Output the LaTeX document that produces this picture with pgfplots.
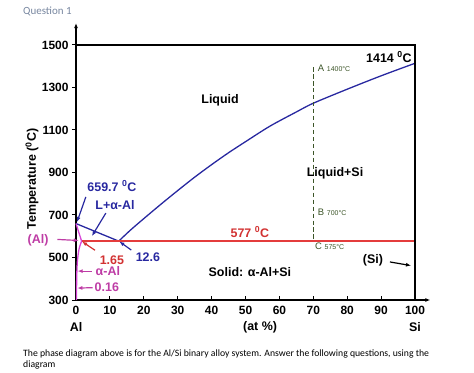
\documentclass[border=0pt]{standalone}
\usepackage{fontspec}
\setmainfont{Liberation Sans}
\newfontfamily\carlito{Carlito}
\usepackage{pgfplots}
\pgfplotsset{compat=1.18}
\usetikzlibrary{arrows.meta}
\definecolor{dblue}{RGB}{40,40,160}
\definecolor{lred}{RGB}{228,60,60}
\definecolor{tred}{RGB}{210,50,50}
\definecolor{lpink}{RGB}{215,70,215}
\definecolor{tpink}{RGB}{190,60,165}
\definecolor{dgreen}{RGB}{60,85,40}
\definecolor{qgrey}{RGB}{120,135,160}
\begin{document}
\begin{tikzpicture}
\useasboundingbox (0,0) rectangle (474bp,373bp);
\node[anchor=west, font=\carlito\fontsize{11}{13}\selectfont, text=qgrey, inner sep=0] at (23bp,362bp) {Question 1};
\node[anchor=base west, font=\carlito\fontsize{9.75}{11}\selectfont, inner sep=0] at (23bp,17bp) {The phase diagram above is for the Al/Si binary alloy system. Answer the following questions, using the};
\node[anchor=base west, font=\carlito\fontsize{9.75}{11}\selectfont, inner sep=0] at (23bp,5.5bp) {diagram};
\begin{axis}[
  at={(76bp,73bp)}, anchor=south west, scale only axis,
  width=354.3bp, height=276.9bp,
  xmin=0, xmax=104.5, ymin=300, ymax=1603,
  axis lines=left,
  axis line style={line width=1.4pt, -{Latex[length=5pt,width=4pt]}},
  xtick={0,10,...,100}, ytick={300,500,...,1500},
  xtick align=inside, ytick align=outside,
  major tick length=4bp,
  tick style={black, line width=1pt},
  ticklabel style={font=\bfseries\fontsize{12}{14}\selectfont},
  x tick label style={yshift=-2.5bp},
  /pgf/number format/assume math mode=true,
  /pgf/number format/1000 sep={},
  clip=false,
]
% Si-side liquidus
\addplot[dblue, line width=1.3pt, smooth] coordinates {(12.6,577)(16,628)(20,683)(25,750)(30,815)(35,878)(40,937)(45,993)(50,1045)(57.2,1118)(65,1185)(70,1226)(80,1292)(90,1355)(100,1414)};
% Al-side liquidus
\addplot[dblue, line width=1.3pt] coordinates {(0,659.7)(12.6,577)};
% eutectic
\addplot[lred, line width=1.3pt] coordinates {(1.65,577)(100,577)};
% solidus and solvus
\addplot[lpink, line width=1.3pt] coordinates {(0,659.7)(1.65,577)};
\addplot[lpink, line width=1.3pt, smooth] coordinates {(1.65,577)(0.9,540)(0.4,480)(0.2,400)(0.16,300)};
% dashed composition line
\addplot[dgreen, line width=1.5pt, dash pattern=on 4.5pt off 2.5pt] coordinates {(70,1396)(70,577)};
% frame
\addplot[black, line width=1.4pt] coordinates {(0,1500)(100,1500)(100,577)};
\addplot[black, line width=2.6pt] coordinates {(100,577)(100,300)};

\def\lab{\bfseries\fontsize{12.5}{14}\selectfont}
\node[rotate=90, font=\lab] at (axis cs:-13,869) {Temperature (\textsuperscript{0}C)};
\node[font=\lab] at (axis cs:0,173) {Al};
\node[font=\lab] at (axis cs:100,173) {Si};
\node[font=\lab] at (axis cs:54.3,173) {(at \%)};
\node[font=\lab] at (axis cs:92.3,1444) {1414 \textsuperscript{0}C};
\node[font=\lab] at (axis cs:42.5,1241) {Liquid};
\node[font=\lab] at (axis cs:76.4,898) {Liquid+Si};
\node[font=\lab, text=tred] at (axis cs:51.3,620) {577 \textsuperscript{0}C};
\node[font=\lab] at (axis cs:51.3,432) {Solid: α-Al+Si};
\node[font=\lab] at (axis cs:87.6,488) {(Si)};
\draw[line width=1.2pt, -{Latex[length=5pt,width=4pt]}] (axis cs:92.6,479) -- (axis cs:98.8,462);

\node[font=\lab, text=dblue] at (axis cs:10.6,836) {659.7 \textsuperscript{0}C};
\draw[dblue, line width=1.2pt, -{Latex[length=5pt,width=4pt]}] (axis cs:2.9,785) -- (axis cs:0.3,667);
\node[font=\lab, text=dblue] at (axis cs:11.5,747) {L+α-Al};
\draw[dblue, line width=1.2pt, -{Latex[length=5pt,width=4pt]}] (axis cs:8.8,709) -- (axis cs:4.7,601);
\node[font=\lab, text=dblue] at (axis cs:21.2,502) {12.6};
\draw[dblue, line width=1.2pt, -{Latex[length=5pt,width=4pt]}] (axis cs:16.3,535) -- (axis cs:12.8,575);
\node[font=\lab, text=tred] at (axis cs:10.6,488) {1.65};
\draw[tred, line width=1.2pt, -{Latex[length=5pt,width=4pt]}] (axis cs:5.6,534) -- (axis cs:1.8,575);
\node[font=\lab, text=tpink] at (axis cs:-11.2,582) {(Al)};
\draw[tpink, line width=1.2pt, -{Latex[length=5pt,width=4pt]}] (axis cs:-5.5,585) -- (axis cs:0.8,580);
\node[font=\lab, text=tpink] at (axis cs:9.4,436) {α-Al};
\draw[tpink, line width=1.2pt, -{Latex[length=5pt,width=4pt]}] (axis cs:4.6,436) -- (axis cs:0.5,436);
\node[font=\lab, text=tpink] at (axis cs:9.1,361) {0.16};
\draw[tpink, line width=1.2pt, -{Latex[length=5pt,width=4pt]}] (axis cs:4.9,358) -- (axis cs:0.4,356);

\node[anchor=west, inner sep=0, text=dgreen, font=\fontsize{9.5}{10}\selectfont] at (axis cs:71.3,1392) {A {\fontsize{7}{8}\selectfont 1400°C}};
\node[anchor=west, inner sep=0, text=dgreen, font=\fontsize{9.5}{10}\selectfont] at (axis cs:71.3,714) {B {\fontsize{7}{8}\selectfont 700°C}};
\node[anchor=west, inner sep=0, text=dgreen, font=\fontsize{9.5}{10}\selectfont] at (axis cs:70.5,552) {C {\fontsize{7}{8}\selectfont 575°C}};
\end{axis}
\end{tikzpicture}
\end{document}
